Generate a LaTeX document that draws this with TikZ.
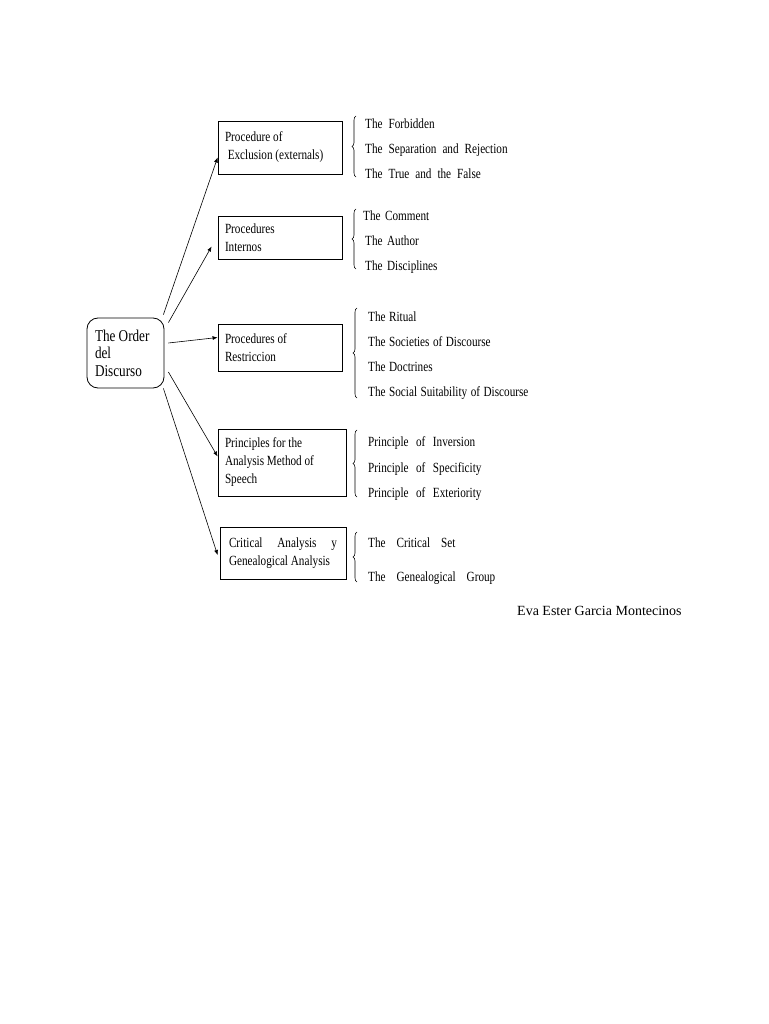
\documentclass[tikz,border=0pt]{standalone}
\usepackage{fontspec}
\setmainfont{Liberation Serif}
\newfontfamily\condserif[FakeStretch=0.8]{Liberation Serif}
\usetikzlibrary{arrows.meta,decorations.pathreplacing}
\begin{document}
\begin{tikzpicture}[x=1pt,y=-1pt,
  sp/.style={execute at begin node={\spaceskip=#1pt plus 0pt minus 0pt\relax}},
  box/.style={draw,line width=0.8pt,align=left,inner xsep=7pt,inner ysep=0pt,sp=2.8,
    font=\condserif\fontsize{14}{18}\selectfont},
  rootbox/.style={draw,line width=0.8pt,rounded corners=11pt,align=left,inner xsep=8pt,sp=3.2,
    font=\condserif\fontsize{16.5}{17.5}\selectfont},
  item/.style={anchor=west,inner sep=0pt,text height=9pt,text depth=3pt,yshift=-2.5pt,
    font=\condserif\fontsize{14}{16}\selectfont},
  arr/.style={-{Latex[length=5pt,width=4pt]},line width=0.6pt},
  br/.style={decorate,decoration={brace,amplitude=4pt,aspect=0.5},line width=0.6pt}
]
\useasboundingbox[fill=white] (0,0) rectangle (768,1024);

% root
\node[rootbox,minimum width=77pt,minimum height=70pt,text width=61pt] (root) at (125.5,353)
  {The Order\\del\\Discurso};

% boxes
\node[box,minimum width=124pt,minimum height=53pt,text width=110pt] (b1) at (280,147.5)
  {Procedure of\\\ Exclusion (externals)};
\node[box,minimum width=124pt,minimum height=43pt,text width=110pt] (b2) at (280,237.5)
  {Procedures\\Internos};
\node[box,minimum width=124pt,minimum height=47pt,text width=110pt] (b3) at (280,347.5)
  {Procedures of\\Restriccion};
\node[box,minimum width=128pt,minimum height=67pt,text width=114pt] (b4) at (282,462.5)
  {Principles for the\\Analysis Method of\\Speech};
\node[box,minimum width=126pt,minimum height=52pt,text width=108pt,inner xsep=9pt] (b5) at (283,553)
  {Critical\hfill Analysis\hfill y\\Genealogical Analysis};

% arrows
\draw[arr] ([xshift=-1pt,yshift=3pt]root.north east) -- ([yshift=-10pt]b1.west);
\draw[arr] ([xshift=4pt,yshift=-5pt]root.north east) -- ([xshift=-6pt,yshift=-9pt]b2.west);
\draw[arr] ([xshift=4pt,yshift=10pt]root.east) -- ([yshift=10pt]b3.west);
\draw[arr] ([xshift=4pt,yshift=-19pt]root.east) -- ([yshift=6pt]b4.west);
\draw[arr] ([xshift=-1pt]root.south east) -- ([xshift=-2pt,yshift=-2pt]b5.west);

% braces
\draw[br] (356,177) coordinate (c1b) -- (356,116) coordinate (c1t);
\draw[br] (356,269) coordinate (c2b) -- (356,209) coordinate (c2t);
\draw[br] (357,398) coordinate (c3b) -- (357,308) coordinate (c3t);
\draw[br] (357,497) coordinate (c4b) -- (357,430) coordinate (c4t);
\draw[br] (357,582) coordinate (c5b) -- (357,532) coordinate (c5t);

% lists
\node[item,sp=6] (l11) at (365,123) {The Forbidden};
\node[item,sp=6] (l12) at (365,148) {The Separation and Rejection};
\node[item,sp=6] (l13) at (365,173) {The True and the False};

\node[item,sp=4.5] (l21) at (363,215) {The Comment};
\node[item,sp=4.5] (l22) at (365,240) {The Author};
\node[item,sp=4.5] (l23) at (365,265) {The Disciplines};

\node[item,sp=3.5] (l31) at (368,316) {The Ritual};
\node[item,sp=3.5] (l32) at (368,341) {The Societies of Discourse};
\node[item,sp=3.5] (l33) at (368,366) {The Doctrines};
\node[item,sp=3.5] (l34) at (368,391) {The Social Suitability of Discourse};

\node[item,sp=7.5] (l41) at (368,441) {Principle of Inversion};
\node[item,sp=7.5] (l42) at (368,467) {Principle of Specificity};
\node[item,sp=7.5] (l43) at (368,492) {Principle of Exteriority};

\node[item,sp=11] (l51) at (368,542) {The Critical Set};
\node[item,sp=11] (l52) at (368,576) {The Genealogical Group};

% signature
\node[anchor=west,inner sep=0pt,font=\fontsize{14}{16}\selectfont] (sig) at (517,611) {Eva Ester Garcia Montecinos};
\end{tikzpicture}
\end{document}
